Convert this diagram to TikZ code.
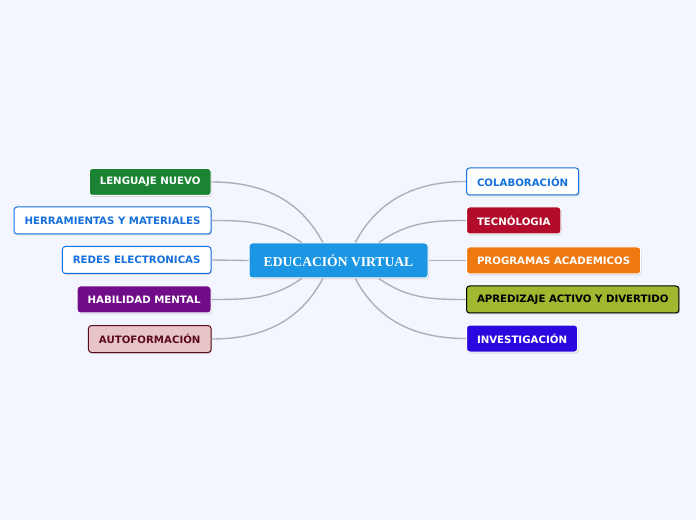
\documentclass[tikz,border=0pt]{standalone}
\usepackage{fontspec}
\setmainfont{DejaVu Sans}
\newfontfamily\titlefont{Liberation Serif}
\usepackage{tikz}
\usetikzlibrary{
    positioning,   % Relative positioning
    shadows        % Drop shadows
}
\definecolor{bgpage}{RGB}{243,246,254}
\definecolor{linkgray}{RGB}{172,176,186}
\definecolor{rootblue}{RGB}{26,150,228}
\definecolor{txtblue}{RGB}{22,112,222}
\definecolor{boxgreen}{RGB}{26,132,52}
\definecolor{boxpurple}{RGB}{112,12,136}
\definecolor{boxpink}{RGB}{232,196,200}
\definecolor{boxmaroon}{RGB}{92,10,30}
\definecolor{boxred}{RGB}{178,12,42}
\definecolor{boxorange}{RGB}{240,120,16}
\definecolor{boxolive}{RGB}{160,184,48}
\definecolor{boxviolet}{RGB}{42,8,224}

\begin{document}
\begin{tikzpicture}[x=1pt, y=1pt,
    topic/.style={rectangle, rounded corners=3pt, minimum height=27pt,
        inner xsep=10.5pt, inner ysep=0pt, line width=1pt,
        font=\bfseries\fontsize{10.2}{12}\selectfont,
        drop shadow={shadow xshift=1pt, shadow yshift=-1.5pt, opacity=0.25}},
    fillbox/.style={topic, fill=#1, draw=white, text=white},
    linebox/.style={topic, fill=white, draw=txtblue, text=txtblue},
    link/.style={draw=linkgray, line width=1.4pt}]
    % Page and background
    \fill[bgpage] (0,0) rectangle (696,520);
    \useasboundingbox (0,0) rectangle (696,520);

    % Central topic
    \node[rectangle, rounded corners=3pt, fill=rootblue, draw=white, line width=1pt,
          minimum width=179pt, minimum height=35pt, inner sep=0pt, text=white,
          font=\titlefont\bfseries\fontsize{13.6}{15}\selectfont,
          drop shadow={shadow xshift=1pt, shadow yshift=-1.5pt, opacity=0.25}]
          (root) at (338.5,259.5) {EDUCACIÓN VIRTUAL};

    % Left branches
    \node[fillbox=boxgreen, anchor=east] (lenguaje) at (211.5,338) {LENGUAJE NUEVO};
    \node[linebox, anchor=east] (herram) at (211.5,299.5) {HERRAMIENTAS Y MATERIALES};
    \node[linebox, anchor=east] (redes) at (211.5,260) {REDES ELECTRONICAS};
    \node[fillbox=boxpurple, anchor=east] (habilidad) at (211.5,220.5) {HABILIDAD MENTAL};
    \node[topic, fill=boxpink, draw=boxmaroon, text=boxmaroon, anchor=east]
          (autoform) at (211.5,181) {AUTOFORMACIÓN};

    % Right branches
    \node[linebox, anchor=west] (colab) at (466,338.5) {COLABORACIÓN};
    \node[fillbox=boxred, anchor=west] (tecno) at (466,299.5) {TECNÓLOGIA};
    \node[fillbox=boxorange, anchor=west] (program) at (466,259.5) {PROGRAMAS ACADEMICOS};
    \node[topic, fill=boxolive, draw=black, text=black, anchor=west]
          (apredizaje) at (466,220.5) {APREDIZAJE ACTIVO Y DIVERTIDO};
    \node[fillbox=boxviolet, anchor=west] (investig) at (466,181.5) {INVESTIGACIÓN};

    % Connectors
    \begin{scope}[on background layer/.try]
    \draw[link] (root.131) to[out=118, in=0] (lenguaje.east);
    \draw[link] (root.154) to[out=145, in=0] (herram.east);
    \draw[link] (root.west) -- (redes.east);
    \draw[link] (root.206) to[out=215, in=0] (habilidad.east);
    \draw[link] (root.229) to[out=242, in=0] (autoform.east);
    \draw[link] (root.47) to[out=62, in=180] (colab.west);
    \draw[link] (root.24) to[out=35, in=180] (tecno.west);
    \draw[link] (root.east) -- (program.west);
    \draw[link] (root.336) to[out=325, in=180] (apredizaje.west);
    \draw[link] (root.313) to[out=298, in=180] (investig.west);
    \end{scope}
\end{tikzpicture}
\end{document}
